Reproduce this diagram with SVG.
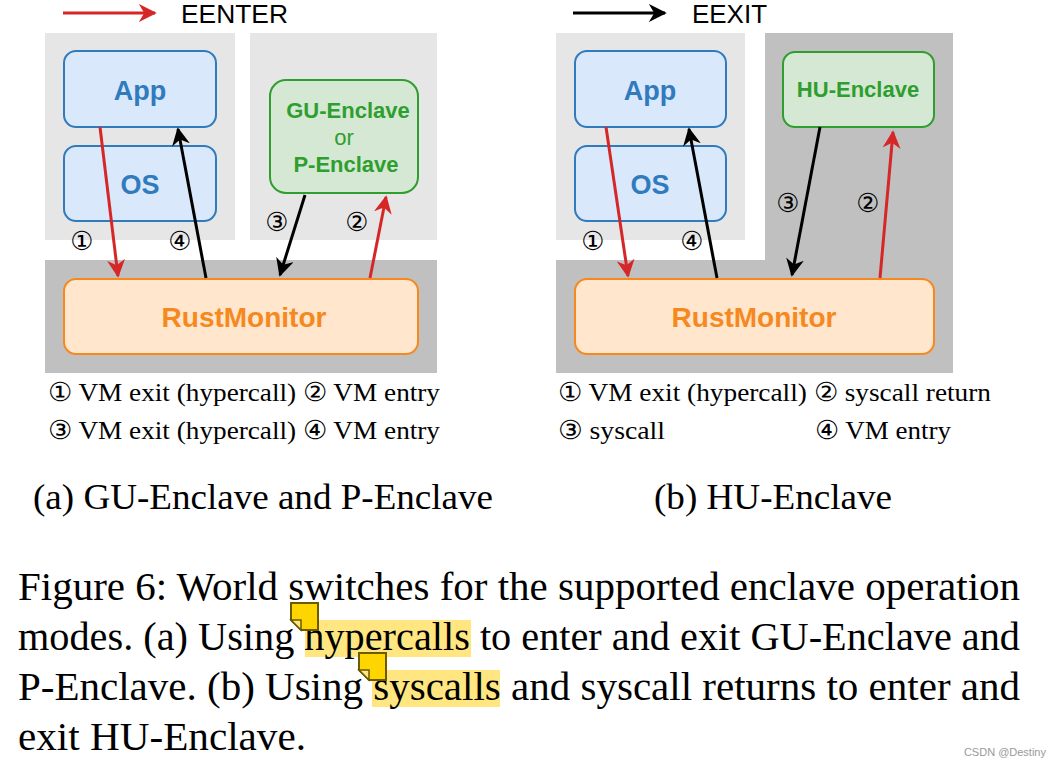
<svg xmlns="http://www.w3.org/2000/svg" width="1061" height="768" viewBox="0 0 1061 768">
<defs>
<marker id="ar" viewBox="0 0 10 10" refX="9" refY="5" markerWidth="6" markerHeight="6" orient="auto"><path d="M0,0 L10,5 L0,10 L3,5 Z" fill="#d62728"/></marker>
<marker id="ab" viewBox="0 0 10 10" refX="9" refY="5" markerWidth="6" markerHeight="6" orient="auto"><path d="M0,0 L10,5 L0,10 L3,5 Z" fill="#000"/></marker>
<style>
.lg{fill:#e6e6e6}.dg{fill:#c0c0c0}
.blue{fill:#dae8fc;stroke:#2f7bbd;stroke-width:2}
.green{fill:#d5e8d4;stroke:#2e9e2e;stroke-width:2}
.orange{fill:#ffe6cc;stroke:#f5891f;stroke-width:2}
.bt{font-family:"Liberation Sans",Arial,sans-serif;font-weight:bold;font-size:27px;fill:#2f7bbd;text-anchor:middle}
.gt{font-family:"Liberation Sans",Arial,sans-serif;font-weight:bold;font-size:22px;fill:#2e9e2e;text-anchor:middle}
.ot{font-family:"Liberation Sans",Arial,sans-serif;font-weight:bold;font-size:28px;fill:#f5891f;text-anchor:middle}
.sv{font-family:"Liberation Serif","Times New Roman",serif;fill:#000}
.leg{font-size:26px}.cap{font-size:39px}
.red{stroke:#d62728;stroke-width:3;fill:none;marker-end:url(#ar)}
.blk{stroke:#000;stroke-width:3;fill:none;marker-end:url(#ab)}
.num{font-family:"DejaVu Sans",sans-serif;font-size:26px;fill:#000;text-anchor:middle}
.hl{fill:#ffe680}
</style>
</defs>
<rect width="1061" height="768" fill="#fff"/>
<rect class="lg" x="45" y="33" width="190" height="207"/>
<rect class="lg" x="250" y="33" width="187" height="207"/>
<rect class="dg" x="45" y="260" width="392" height="113"/>
<rect class="lg" x="556" y="33" width="189" height="207"/>
<path class="dg" d="M556,260 H765 V33 H953 V373 H556 Z"/>
<g id="legend-left"><line x1="63" y1="13" x2="155" y2="13" class="red"/><text x="181" y="23" font-family="Liberation Sans,Arial,sans-serif" font-size="25" textLength="107" lengthAdjust="spacingAndGlyphs">EENTER</text></g>
<g id="legend-right"><line x1="573" y1="13" x2="665" y2="13" class="blk"/><text x="692" y="23" font-family="Liberation Sans,Arial,sans-serif" font-size="25" textLength="75" lengthAdjust="spacingAndGlyphs">EEXIT</text></g>
<g id="app1"><rect class="blue" x="64" y="51" width="152" height="76" rx="12"/><text class="bt" x="140" y="100">App</text></g>
<g id="os1"><rect class="blue" x="64" y="146" width="152" height="75" rx="12"/><text class="bt" x="140" y="194">OS</text></g>
<g id="gu"><rect class="green" x="270" y="80" width="148" height="113" rx="16"/><text class="gt" x="348" y="118">GU-Enclave</text><text class="gt" x="344" y="145" style="font-weight:normal">or</text><text class="gt" x="346" y="172">P-Enclave</text></g>
<g id="rm1"><rect class="orange" x="64" y="279" width="354" height="75" rx="12"/><text class="ot" x="244" y="327">RustMonitor</text></g>
<g id="app2"><rect class="blue" x="575" y="51" width="151" height="76" rx="12"/><text class="bt" x="650" y="100">App</text></g>
<g id="os2"><rect class="blue" x="575" y="146" width="151" height="75" rx="12"/><text class="bt" x="650" y="194">OS</text></g>
<g id="hu"><rect class="green" x="783" y="52" width="151" height="75" rx="12"/><text class="gt" x="858" y="97">HU-Enclave</text></g>
<g id="rm2"><rect class="orange" x="575" y="279" width="359" height="75" rx="12"/><text class="ot" x="754" y="327">RustMonitor</text></g>
<g id="connectors">
<line class="red" x1="100" y1="127" x2="118" y2="276"/>
<line class="blk" x1="206" y1="278" x2="178" y2="129"/>
<line class="blk" x1="305" y1="195" x2="280" y2="275"/>
<line class="red" x1="370" y1="278" x2="386" y2="197"/>
<line class="red" x1="606" y1="127" x2="628" y2="276"/>
<line class="blk" x1="717" y1="278" x2="689" y2="129"/>
<line class="blk" x1="820" y1="127" x2="792" y2="275"/>
<line class="red" x1="880" y1="278" x2="893" y2="132"/>
</g>
<g class="num">
<text x="82" y="250">①</text><text x="180" y="250">④</text><text x="277" y="231">③</text><text x="357" y="231">②</text>
<text x="593" y="250">①</text><text x="692" y="250">④</text><text x="788" y="212">③</text><text x="868" y="212">②</text>
</g>
<g class="sv leg">
<text x="48" y="401" textLength="392" lengthAdjust="spacingAndGlyphs">① VM exit (hypercall) ② VM entry</text>
<text x="48" y="439" textLength="392" lengthAdjust="spacingAndGlyphs">③ VM exit (hypercall) ④ VM entry</text>
<text x="558" y="401" textLength="433" lengthAdjust="spacingAndGlyphs">① VM exit (hypercall) ② syscall return</text>
<text x="558" y="439" textLength="107" lengthAdjust="spacingAndGlyphs">③ syscall</text><text x="815" y="439" textLength="136" lengthAdjust="spacingAndGlyphs">④ VM entry</text>
<text x="33" y="509" font-size="36" textLength="460" lengthAdjust="spacingAndGlyphs">(a) GU-Enclave and P-Enclave</text>
<text x="654" y="509" font-size="36" textLength="238" lengthAdjust="spacingAndGlyphs">(b) HU-Enclave</text>
</g>
<rect class="hl" x="305" y="620" width="166" height="37"/>
<rect class="hl" x="372" y="670" width="128" height="37"/>
<g class="sv cap">
<text x="18" y="600" textLength="1002" lengthAdjust="spacingAndGlyphs">Figure 6: World switches for the supported enclave operation</text>
<text x="18" y="650" textLength="1002" lengthAdjust="spacingAndGlyphs">modes. (a) Using hypercalls to enter and exit GU-Enclave and</text>
<text x="18" y="700" textLength="1002" lengthAdjust="spacingAndGlyphs">P-Enclave. (b) Using syscalls and syscall returns to enter and</text>
<text x="18" y="750" textLength="288" lengthAdjust="spacingAndGlyphs">exit HU-Enclave.</text>
</g>
<g id="note1"><path d="M291,603 H318 V630 H301 L291,620 Z" fill="#ffd500" stroke="#6b5a00" stroke-width="2"/><path d="M291,620 H301 V630 Z" fill="#ffe680" stroke="#6b5a00" stroke-width="1.5"/></g>
<g id="note2"><path d="M359,653 H386 V680 H369 L359,670 Z" fill="#ffd500" stroke="#6b5a00" stroke-width="2"/><path d="M359,670 H369 V680 Z" fill="#ffe680" stroke="#6b5a00" stroke-width="1.5"/></g>
<text x="1046" y="756" text-anchor="end" font-family="Liberation Sans,Arial,sans-serif" font-size="11" fill="#999">CSDN @Destiny</text>
</svg>
